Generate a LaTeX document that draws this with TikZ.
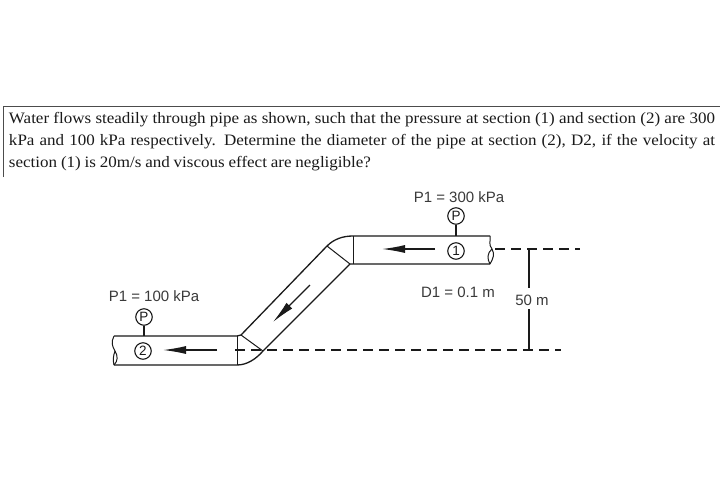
\documentclass[tikz,border=0pt]{standalone}
\usepackage{fontspec}
\setmainfont[FakeStretch=1.07]{Liberation Serif}
\newfontfamily\labelfont{Liberation Sans}
\usetikzlibrary{arrows.meta}
\definecolor{ink}{HTML}{1A1A1A}
\definecolor{labelgrey}{HTML}{3A3A3A}
\tikzset{
  body/.style={anchor=base west,inner sep=0pt,outer sep=0pt,font=\fontsize{15.9}{18}\selectfont,text=ink},
  dimlabel/.style={inner sep=0pt,font=\labelfont\fontsize{15}{17}\selectfont,text=labelgrey},
  gauge/.style={circle,draw=ink,line width=1.1pt,minimum size=16.5pt,inner sep=0pt,font=\labelfont\fontsize{13.5}{14}\selectfont,text=ink},
  pipe/.style={draw=ink,line width=1.3pt},
  thin pipe/.style={draw=ink,line width=1pt},
  flow/.style={draw=ink,line width=1.2pt,-{Latex[length=23pt,width=8pt]}},
  datum/.style={draw=ink,line width=1.4pt,dash pattern=on 10pt off 6pt},
  dim/.style={draw=ink,line width=1.4pt}
}
\begin{document}
\begin{tikzpicture}[x=1pt,y=-1pt]
\useasboundingbox[fill=white] (0,0) rectangle (720,488);
% frame of the question
\coordinate (ruleA) at (3,106);
\coordinate (ruleB) at (720,106);
\coordinate (ruleC) at (3,177);
\draw[draw=black!70,line width=1pt] (ruleC) -- (ruleA) -- (ruleB);
% question text
\node[body] (lineone) at (9,123) {\hbox to 706pt{Water flows steadily through pipe as shown, such that the pressure at section (1) and section (2) are 300}};
\node[body] (linetwo) at (9,145) {\hbox to 706pt{kPa and 100 kPa respectively. Determine the diameter of the pipe at section (2), D2, if the velocity at}};
\node[body] (linethree) at (9,167) {\hbox to 362pt{section (1) is 20m/s and viscous effect are negligible?}};
% labels
\node[dimlabel] (pone) at (459,197) {P1 = 300 kPa};
\node[dimlabel] (ptwo) at (154,296) {P1 = 100 kPa};
\node[dimlabel] (done) at (458,292) {D1 = 0.1 m};
\node[dimlabel] (height) at (532,300) {50 m};
% gauges and section marks
\node[gauge] (gaugeone) at (456,216) {P};
\node[gauge] (gaugetwo) at (144,317) {P};
\node[gauge] (secone) at (456,251) {1};
\node[gauge] (sectwo) at (143,351) {2};
% pipe corners
\coordinate (a) at (490,236);
\coordinate (b) at (353,236);
\coordinate (c) at (327,246);
\coordinate (d) at (241,335);
\coordinate (e) at (114,336);
\coordinate (f) at (114,365);
\coordinate (g) at (237,365);
\coordinate (h) at (263,351);
\coordinate (i) at (350,264);
\coordinate (j) at (353,264);
\coordinate (k) at (490,264);
\coordinate (jointlow) at (237,336);
\coordinate (stemone) at (456,236);
\coordinate (stemtwo) at (144,336);
% pipe outline
\draw[pipe] (a) -- (b) .. controls (343,236) and (334,239) .. (c) -- (d) -- (jointlow) -- (e);
\draw[pipe] (f) -- (g) .. controls (247,365) and (256,359) .. (h) -- (i) -- (j) -- (k);
% joints
\draw[thin pipe] (b) -- (j);
\draw[thin pipe] (c) -- (i);
\draw[thin pipe] (jointlow) -- (g);
\draw[thin pipe] (d) -- (h);
% broken ends
\draw[thin pipe] (a) .. controls (491,241) and (488,244) .. (492,249) .. controls (495,254) and (493,259) .. (k);
\draw[thin pipe] (492,249) .. controls (487,253) and (487,259) .. (k);
\draw[thin pipe] (e) .. controls (111,342) and (112,346) .. (115,351) .. controls (118,356) and (118,361) .. (f);
\draw[thin pipe] (115,351) .. controls (113,356) and (113,361) .. (f);
% gauge stems
\draw[pipe] (gaugeone) -- (stemone);
\draw[pipe] (gaugetwo) -- (stemtwo);
% flow arrows
\coordinate (flowoneA) at (435,249);
\coordinate (flowoneB) at (382,249);
\coordinate (flowtwoA) at (217,350);
\coordinate (flowtwoB) at (163,350);
\coordinate (flowdiagA) at (310,285);
\coordinate (flowdiagB) at (273,322);
\draw[flow] (flowoneA) -- (flowoneB);
\draw[flow] (flowtwoA) -- (flowtwoB);
\draw[flow] (flowdiagA) -- (flowdiagB);
% datum lines
\coordinate (datumupA) at (495,249);
\coordinate (datumupB) at (580,249);
\coordinate (datumlowA) at (235,350);
\coordinate (datumlowB) at (561,350);
\draw[datum] (datumupA) -- (datumupB);
\draw[datum] (datumlowA) -- (datumlowB);
% height dimension
\coordinate (dimtop) at (529,249);
\coordinate (dimgapA) at (529,288);
\coordinate (dimgapB) at (529,309);
\coordinate (dimbot) at (529,350);
\draw[dim] (dimtop) -- (dimgapA);
\draw[dim] (dimgapB) -- (dimbot);
\end{tikzpicture}
\end{document}
